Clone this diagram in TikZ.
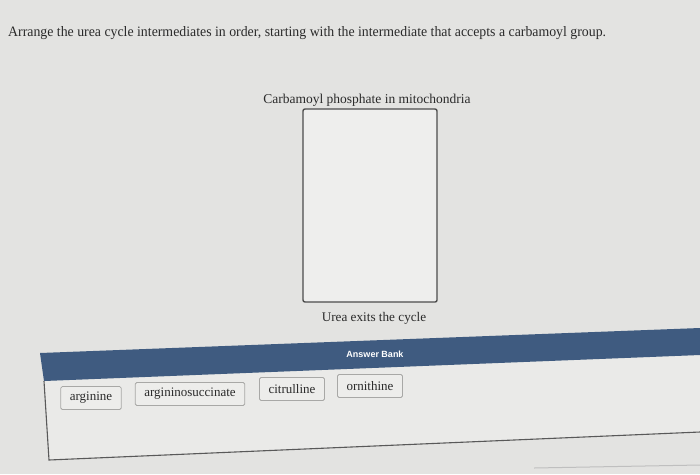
\documentclass[tikz,border=0pt]{standalone}
\usepackage{fontspec}
\setmainfont{Liberation Serif}
\setsansfont{Liberation Sans}
\definecolor{bgc}{HTML}{E3E3E1}
\definecolor{hdr}{HTML}{3F5B80}
\definecolor{pnl}{HTML}{EAEAE8}
\definecolor{chipf}{HTML}{EDEDEB}
\definecolor{chipd}{HTML}{A8A8A6}
\definecolor{txt}{HTML}{2A2A2A}
\tikzset{
  chip/.style={draw=chipd, fill=chipf, rounded corners=1.5pt, line width=0.8pt,
    minimum height=23pt, inner xsep=9pt, font=\fontsize{13}{14}\selectfont, text=txt,
    anchor=center},
  lbl/.style={font=\fontsize{13.5}{15}\selectfont, text=txt},
}
\begin{document}
\begin{tikzpicture}[x=1pt,y=-1pt]
\useasboundingbox (0,0) rectangle (700,474);
\fill[bgc] (0,0) rectangle (700,474);
% title
\node[font=\fontsize{14.4}{16}\selectfont, text=txt, anchor=west, xscale=0.96, inner sep=0pt] (title) at (8,33)
  {Arrange the urea cycle intermediates in order, starting with the intermediate that accepts a carbamoyl group.};
% top label
\node[lbl] (cp) at (367,100) {Carbamoyl phosphate in mitochondria};
% drop box
\draw[draw=black!70, line width=1.4pt, rounded corners=2pt, fill=bgc!60!white] (303,109) rectangle (437,302);
\coordinate (boxc) at (370,205);
\node[font=\fontsize{13.2}{15}\selectfont, text=txt] (urea) at (374,318) {Urea exits the cycle};
% answer bank panel
\fill[pnl] (44,381) -- (700,355) -- (700,432) -- (49,460) -- cycle;
\draw[black!65, line width=1.1pt] (44,381) -- (49,460) -- (700,432);
\fill[hdr] (40,353) -- (700,328) -- (700,355) -- (44,381) -- cycle;
\node[font=\sffamily\bfseries\fontsize{9}{10}\selectfont, text=white] (ab) at (375,354) {Answer Bank};
% faint lower edge
\draw[black!25, line width=1pt] (534,468) -- (700,465);
% chips
\node[chip] (arg) at (91,398) {arginine};
\node[chip] (argsuc) at (190,394) {argininosuccinate};
\node[chip] (cit) at (292,389) {citrulline};
\node[chip] (orn) at (370,386) {ornithine};
\end{tikzpicture}
\end{document}
